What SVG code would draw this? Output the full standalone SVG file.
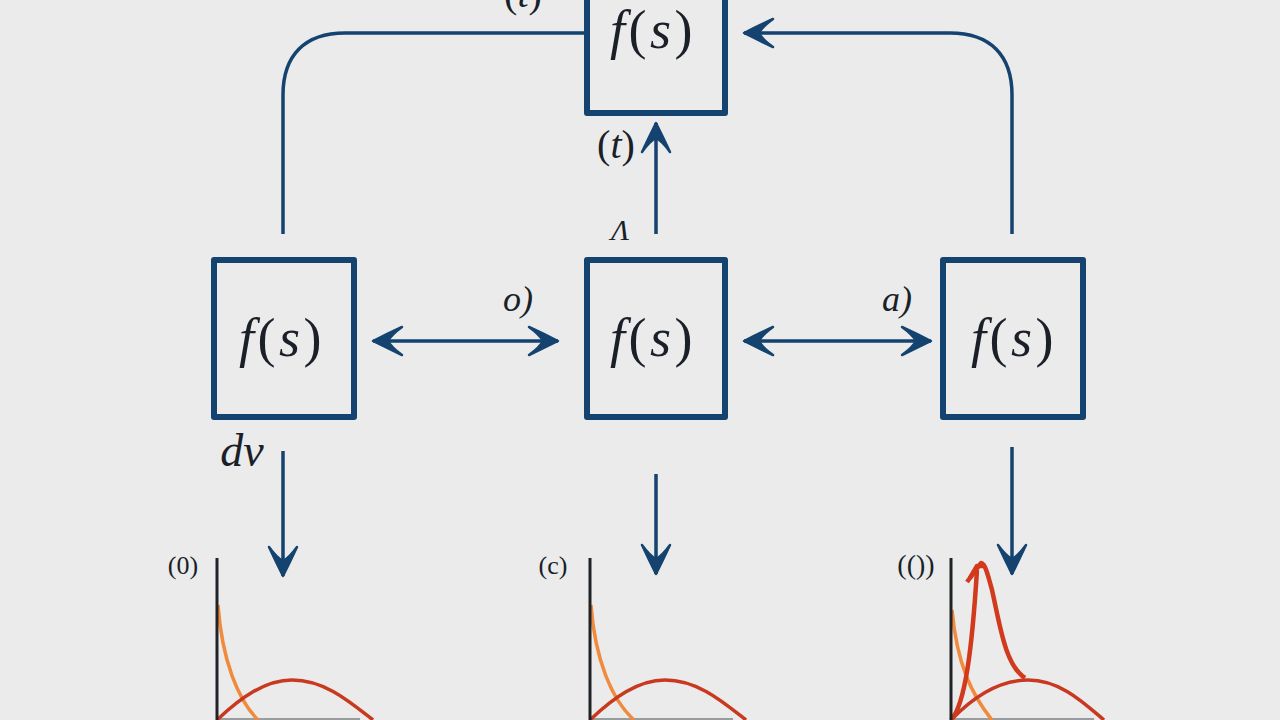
<svg xmlns="http://www.w3.org/2000/svg" width="1280" height="720" viewBox="0 0 1280 720">
<style>
.box{fill:none;stroke:#144370;stroke-width:6;stroke-linejoin:round}
.con{fill:none;stroke:#144370;stroke-width:3.5}
.fn{font-family:"Liberation Serif",serif;font-size:54px;letter-spacing:3.5px;fill:#1a1f28;text-anchor:middle}
.lb{font-family:"Liberation Serif",serif;fill:#1a1f28;text-anchor:middle}
.i{font-style:italic}
.axis{fill:none;stroke:#1f2226;stroke-width:3}
.base{fill:none;stroke:#9a9da0;stroke-width:2}
.or{fill:none;stroke:#f08a3c;stroke-width:3.5}
.rd{fill:none;stroke:#c8391f;stroke-width:3.5}
.rdb{fill:none;stroke:#d13a1c;stroke-width:4.5;stroke-linejoin:round}
</style>
<defs>
<marker id="ah" markerUnits="userSpaceOnUse" viewBox="-32 -18 36 36" refX="0" refY="0" markerWidth="36" markerHeight="36" orient="auto-start-reverse">
<path d="M-29,-14 Q-14,-7 0,0 Q-14,7 -29,14 Q-18,6 -15,0 Q-18,-6 -29,-14Z" fill="#144370" stroke="#144370" stroke-width="2.5" stroke-linejoin="round"/>
</marker>
</defs>
<rect width="1280" height="720" fill="#ebebeb"/>
<g id="connectors">
<path class="con" d="M283,234V95C283,55 305,33 345,33H585"/>
<path class="con" marker-end="url(#ah)" d="M1012,234V95C1012,55 990,33 950,33H744"/>
<path class="con" marker-end="url(#ah)" d="M656,234V123"/>
<path class="con" marker-start="url(#ah)" marker-end="url(#ah)" d="M373,341H558"/>
<path class="con" marker-start="url(#ah)" marker-end="url(#ah)" d="M744,341H931"/>
<path class="con" marker-end="url(#ah)" d="M283,451V576"/>
<path class="con" marker-end="url(#ah)" d="M656,474V574"/>
<path class="con" marker-end="url(#ah)" d="M1012,447V574"/>
</g>
<g id="node-top">
<rect class="box" x="587" y="-40" width="138" height="153"/>
<text class="fn" x="653" y="48"><tspan class="i">f</tspan>(<tspan class="i">s</tspan>)</text>
</g>
<g id="node-left">
<rect class="box" x="214" y="260" width="140" height="157"/>
<text class="fn" x="282" y="356"><tspan class="i">f</tspan>(<tspan class="i">s</tspan>)</text>
</g>
<g id="node-center">
<rect class="box" x="587" y="260" width="138" height="157"/>
<text class="fn" x="653" y="356"><tspan class="i">f</tspan>(<tspan class="i">s</tspan>)</text>
</g>
<g id="node-right">
<rect class="box" x="943" y="260" width="140" height="157"/>
<text class="fn" x="1014" y="356"><tspan class="i">f</tspan>(<tspan class="i">s</tspan>)</text>
</g>
<g id="labels">
<text class="lb" x="523" y="7" font-size="40">(<tspan class="i">t</tspan>)</text>
<text class="lb" x="616" y="158" font-size="40">(<tspan class="i">t</tspan>)</text>
<text class="lb i" x="620" y="240" font-size="30">Λ</text>
<text class="lb i" x="518" y="311" font-size="36">o)</text>
<text class="lb i" x="897" y="311" font-size="36">a)</text>
<text class="lb i" x="242" y="466" font-size="46">dv</text>
<text class="lb" x="183" y="574" font-size="26">(0)</text>
<text class="lb" x="553" y="574" font-size="26">(c)</text>
<text class="lb" x="916" y="574" font-size="28">(())</text>
</g>
<g id="chart-left">
<path class="base" d="M217,719H360"/>
<path class="or" d="M218,605C222,660 238,700 258,720"/>
<path class="rd" d="M217,720C240,698 265,680 292,680C325,680 350,702 373,720"/>
<path class="axis" d="M217,558V720"/>
</g>
<g id="chart-center">
<path class="base" d="M590,719H733"/>
<path class="or" d="M591,605C595,660 612,700 634,720"/>
<path class="rd" d="M590,720C613,698 638,680 665,680C698,680 723,702 746,720"/>
<path class="axis" d="M590,558V720"/>
</g>
<g id="chart-right">
<path class="base" d="M951,719H1094"/>
<path class="or" d="M952,610C957,665 972,695 992,720"/>
<path class="rd" d="M951,720C975,695 1000,680 1028,680C1060,680 1083,702 1104,720"/>
<path class="rdb" d="M951,720C965,705 972,650 977,570"/>
<path class="rdb" d="M967,582L981,563C985,563 988,575 992,590C1000,625 1005,665 1025,678"/>
<path class="rdb" d="M970,578L977,566L986,566"/>
<path class="axis" d="M951,558V720"/>
</g>
</svg>
